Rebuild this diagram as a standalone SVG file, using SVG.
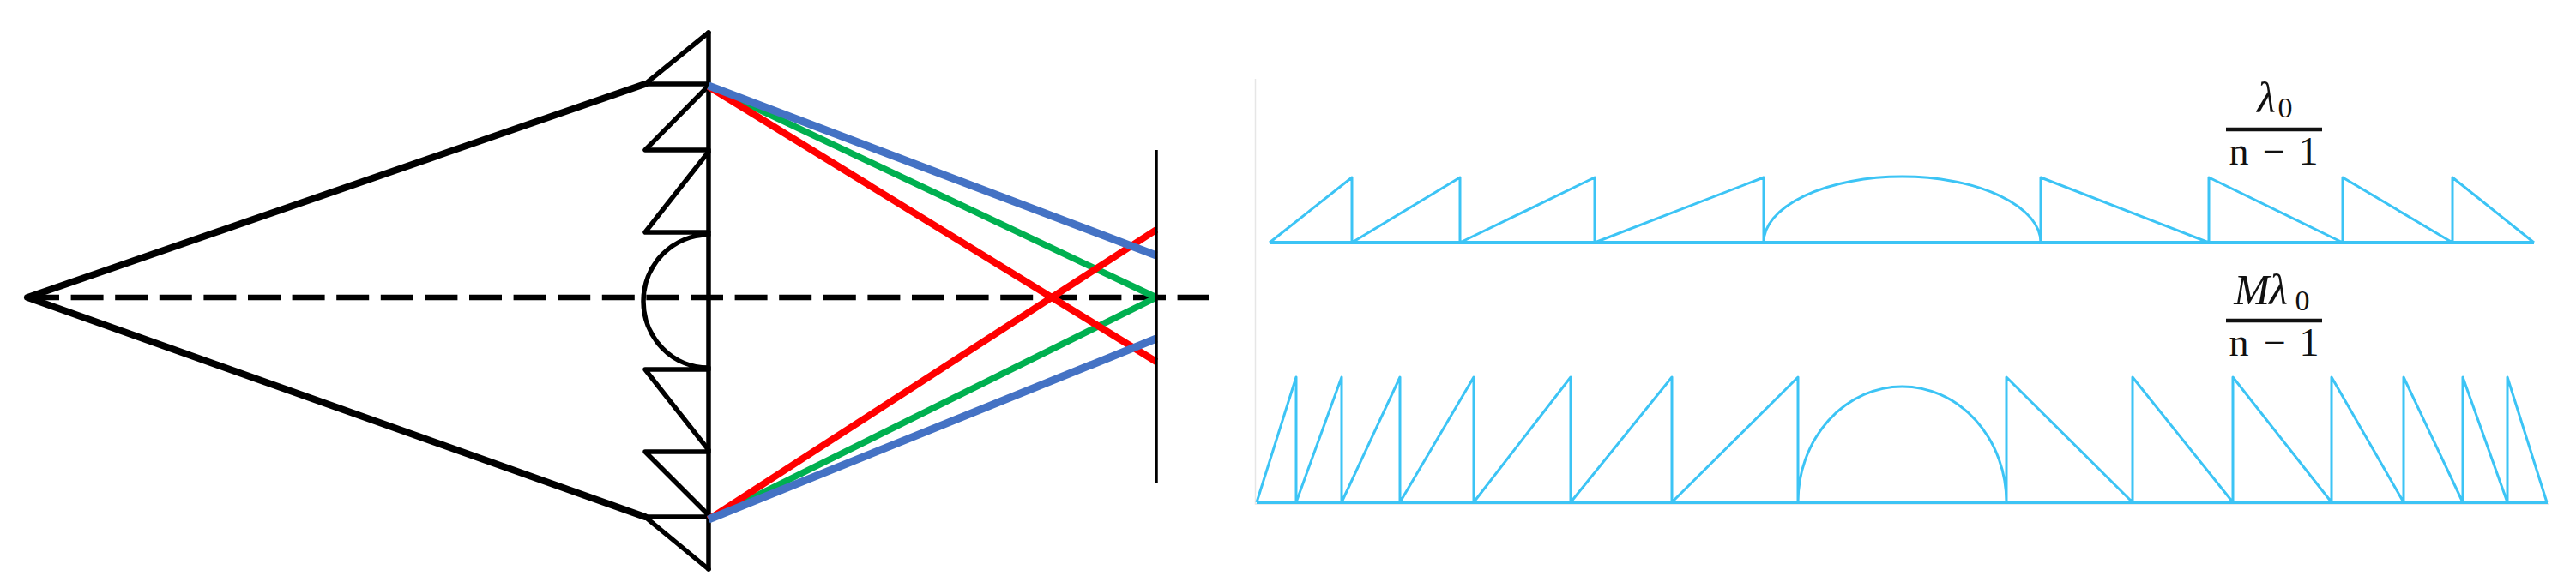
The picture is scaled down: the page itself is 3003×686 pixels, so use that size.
<svg xmlns="http://www.w3.org/2000/svg" width="3003" height="686" viewBox="0 0 3003 686">
<style>
.k{fill:none;stroke:#000;stroke-width:5.500;stroke-linejoin:round;stroke-linecap:round}
.rim{fill:none;stroke:#000;stroke-width:8;stroke-linecap:round}
.b{stroke:#4472C4;stroke-width:9}
.g{stroke:#00B050;stroke-width:7.500}
.r{stroke:#FF0000;stroke-width:8}
.c{fill:none;stroke:#3CC4F5;stroke-width:3;stroke-linejoin:round}
.base{fill:none;stroke:#3CC4F5;stroke-width:4}
.bar{stroke:#111;stroke-width:4.500}
.t{font-family:"Liberation Serif","DejaVu Serif",serif;font-size:46px;fill:#111;text-anchor:middle}
.i{font-style:italic;font-size:50px}
.s{font-size:34px}
</style>
<rect width="3003" height="686" fill="#fff"/>
<g id="panel-edge"><path d="M1463.500 92V588H2972" fill="none" stroke="#e6e6e6" stroke-width="1.500"/></g>
<g id="lens-left">
<path class="k" d="M826 38V664"/>
<path class="k" d="M826 38L752 98H826M826 100L752 175H826M826 177L752 271H826M826 274A76 77.500 0 0 0 826 429M826 431H752L826 525M826 527H752L826 601M826 603H752L826 664"/>
</g>
<g id="connectors">
<path class="rim" d="M32 347L752 98M32 347L752 603"/>
<path d="M31 347H1409" fill="none" stroke="#000" stroke-width="6.500" stroke-dasharray="38 13.600"/>
<path class="g" d="M826 100L1348 347M826 606L1348 347"/>
<path class="r" d="M826 101L1348 422M826 606L1348 268"/>
<path class="b" d="M826 100L1348 298M826 606L1348 395"/>
<path d="M1348 175V563" fill="none" stroke="#000" stroke-width="3.500"/>
</g>
<g id="profile-top">
<path class="base" d="M1480 283H2954"/>
<path class="c" d="M1480 283L1576 207V283L1702 207V283L1859 207V283L2056 207V283A161.500 77 0 0 1 2379 283V207L2575 283V207L2731 283V207L2859 283V207L2954 283"/>
</g>
<g id="profile-bottom">
<path class="base" d="M1465 586H2970"/>
<path class="c" d="M1465 586L1511 440V586L1564 440V586L1632 440V586L1718 440V586L1831 440V586L1949 440V586L2096 440V586A121.500 135 0 0 1 2339 586V440L2486 586V440L2603 586V440L2718 586V440L2802 586V440L2871 586V440L2923 586V440L2969 586"/>
</g>
<g id="label-top">
<text class="t i" x="2642" y="131">λ</text><text class="t s" x="2664" y="137">0</text>
<line class="bar" x1="2595" y1="151" x2="2707" y2="151"/>
<text class="t" x="2610" y="192">n</text><text class="t" x="2651" y="192">−</text><text class="t" x="2691" y="192">1</text>
</g>
<g id="label-bottom">
<text class="t i" x="2625" y="355">M</text><text class="t i" x="2656" y="355">λ</text><text class="t s" x="2684" y="362">0</text>
<line class="bar" x1="2595" y1="374" x2="2707" y2="374"/>
<text class="t" x="2610" y="415">n</text><text class="t" x="2652" y="415">−</text><text class="t" x="2692" y="415">1</text>
</g>
</svg>
